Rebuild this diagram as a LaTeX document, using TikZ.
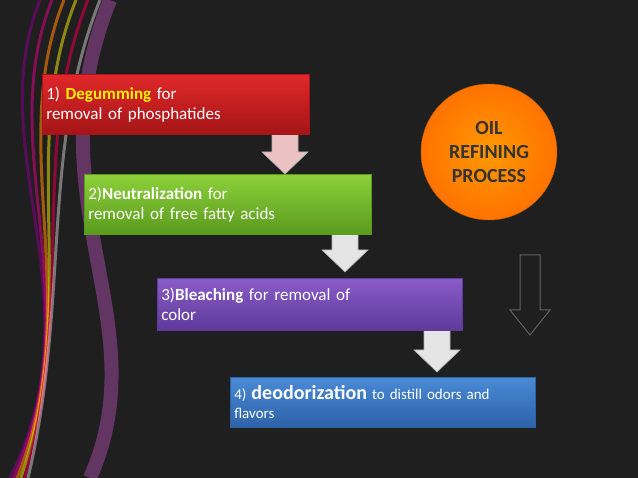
\documentclass[tikz,border=0pt]{standalone}
\usepackage{fontspec}
\setmainfont{Carlito}
\usetikzlibrary{shadings}
\definecolor{gtop}{HTML}{8CD13A}\definecolor{gbot}{HTML}{5A9A1E}
\definecolor{ptop}{HTML}{8A5CC8}\definecolor{pbot}{HTML}{5E3A9A}
\definecolor{btop}{HTML}{4A8AD6}\definecolor{bbot}{HTML}{2E62A8}
\definecolor{rtop}{HTML}{E0282A}\definecolor{rbot}{HTML}{A51517}
\begin{document}
\begin{tikzpicture}[x=1pt,y=-1pt,
  stepbox/.style={draw=#1,line width=0.6pt,minimum height=60pt,anchor=north west,align=left,inner sep=4pt,font=\fontsize{17}{20}\selectfont,text=white},
  darr/.style={draw=gray!60,fill=#1,line width=0.6pt}]
\useasboundingbox (0,0) rectangle (638,478);
\fill[black!88] (0,0) rectangle (638,478);
\foreach \c/\o/\s in {violet/0.6/0, magenta/0.5/12, orange/0.6/24, yellow/0.5/36, purple/0.7/48, white/0.4/60}{
  \draw[\c,opacity=\o,line width=3pt] (40+\s,0) .. controls (-20+\s,150) and (100-\s*0.5,300) .. (10+\s*0.3,478);}
\draw[violet!70!white,opacity=0.5,line width=14pt] (110,0) .. controls (30,200) and (160,320) .. (90,478);
\draw[gray!70,opacity=0.5,line width=1pt] (520,255) -- (540,255) -- (540,310) -- (550,310) -- (530,335) -- (510,310) -- (520,310) -- cycle;
\foreach \x/\y/\f in {285/132/red!20!white!85!gray, 345/230/gray!20!white, 437/330/gray!20!white}{
  \draw[darr=\f] (\x-13,\y) -- (\x+13,\y) -- (\x+13,\y+20) -- (\x+23,\y+20) -- (\x,\y+42) -- (\x-23,\y+20) -- (\x-13,\y+20) -- cycle;}
\node[stepbox=rbot,top color=rtop,bottom color=rbot,text width=259pt] (b1) at (42,74) {1) \textbf{\textcolor{yellow}{Degumming}} for\\removal of phosphatides};
\node[stepbox=gbot,top color=gtop,bottom color=gbot,text width=279pt] (b2) at (84,174) {2)\textbf{Neutralization} for\\removal of free fatty acids};
\node[stepbox=pbot,top color=ptop,bottom color=pbot,minimum height=52pt,text width=297pt] (b3) at (157,278) {3)\textbf{Bleaching} for removal of\\color};
\node[stepbox=bbot,top color=btop,bottom color=bbot,minimum height=50pt,text width=297pt,font=\fontsize{15}{19}\selectfont] (b4) at (230,377) {4) {\fontsize{20}{19}\selectfont\textbf{deodorization}} to distill odors and\\flavors};
\node[circle,draw=orange!70!black,inner color=orange!80!yellow,outer color=orange!90!red,minimum size=136pt,align=center,font=\bfseries\fontsize{20}{24}\selectfont,text=black!80] (c) at (489,152) {OIL\\REFINING\\PROCESS};
\end{tikzpicture}
\end{document}
